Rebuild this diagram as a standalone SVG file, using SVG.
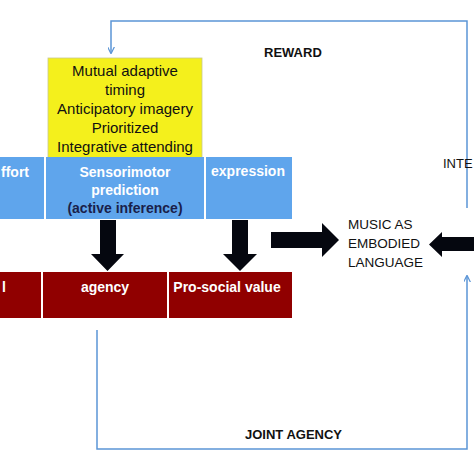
<svg xmlns="http://www.w3.org/2000/svg" width="474" height="474" viewBox="0 0 474 474">
<defs>
<style>
.t{font-family:"Liberation Sans",Arial,sans-serif}
.w{fill:#ffffff;font-weight:bold;font-size:14px}
.y{fill:#111111;font-size:15px}
.lab{fill:#111111;font-weight:bold;font-size:13px}
.reg{fill:#111111;font-size:13.5px}
.blue{fill:#5fa5ec}
.red{fill:#900000}
.conn{fill:none;stroke:#5b95d6;stroke-width:1.5}
.big{fill:#05070f}
</style>
<marker id="ah" viewBox="0 0 10 10" refX="9" refY="5" markerWidth="7" markerHeight="7" markerUnits="userSpaceOnUse" orient="auto">
<path d="M0,0 L10,5 L0,10" fill="none" stroke="#5b95d6" stroke-width="1.8"/>
</marker>
</defs>
<rect width="474" height="474" fill="#ffffff"/>

<g id="yellow">
<rect x="48" y="58" width="154" height="100" fill="#f4f01c" stroke="#c8c890" stroke-width="0.8"/>
<text class="t y" text-anchor="middle" x="125" y="76">Mutual adaptive</text>
<text class="t y" text-anchor="middle" x="125" y="95">timing</text>
<text class="t y" text-anchor="middle" x="125" y="114">Anticipatory imagery</text>
<text class="t y" text-anchor="middle" x="125" y="133">Prioritized</text>
<text class="t y" text-anchor="middle" x="125" y="152">Integrative attending</text>
</g>

<g id="blue-effort">
<rect class="blue" x="0" y="157" width="44" height="62"/>
<text class="t w" x="1" y="177">ffort</text>
</g>
<g id="blue-sensorimotor">
<rect class="blue" x="46" y="157" width="158" height="62"/>
<text class="t w" text-anchor="middle" x="125" y="177">Sensorimotor</text>
<text class="t w" text-anchor="middle" x="125" y="195">prediction</text>
<text class="t w" text-anchor="middle" x="125" y="213" style="fill:#1a1f4a">(active inference)</text>
</g>
<g id="blue-expression">
<rect class="blue" x="206" y="157" width="86" height="62"/>
<text class="t w" text-anchor="middle" x="248" y="176">expression</text>
</g>

<g id="red-left">
<rect class="red" x="0" y="272" width="41" height="46"/>
<text class="t w" x="2" y="292">l</text>
</g>
<g id="red-agency">
<rect class="red" x="43" y="272" width="124" height="46"/>
<text class="t w" text-anchor="middle" x="105" y="292">agency</text>
</g>
<g id="red-prosocial">
<rect class="red" x="169" y="272" width="123" height="46"/>
<text class="t w" text-anchor="middle" x="227" y="292">Pro-social value</text>
</g>

<g id="music">
<text class="t reg" x="348" y="229">MUSIC AS</text>
<text class="t reg" x="348" y="248">EMBODIED</text>
<text class="t reg" x="348" y="267">LANGUAGE</text>
</g>

<g id="connectors">
<path class="big" d="M100,220 H116 V254 H124 L107.5,271 L91,254 H100 Z"/>
<path class="big" d="M232,220 H248 V254 H257 L240,271 L223,254 H232 Z"/>
<path class="big" d="M271,232 H322 V223 L339,240 L322,257 V248 H271 Z"/>
<path class="big" d="M474,237 H442 V232 L429,244.5 L442,257 V251 H474 Z"/>
<polyline class="conn" points="467,208 467,21 111,21 111,53" marker-end="url(#ah)"/>
<polyline class="conn" points="97,330 97,449 467,449 467,276" marker-end="url(#ah)"/>
</g>

<g id="labels">
<text class="t lab" x="264" y="57">REWARD</text>
<text class="t reg" x="443" y="168" style="font-size:13px">INTE</text>
<text class="t lab" x="245" y="439">JOINT AGENCY</text>
</g>
</svg>
